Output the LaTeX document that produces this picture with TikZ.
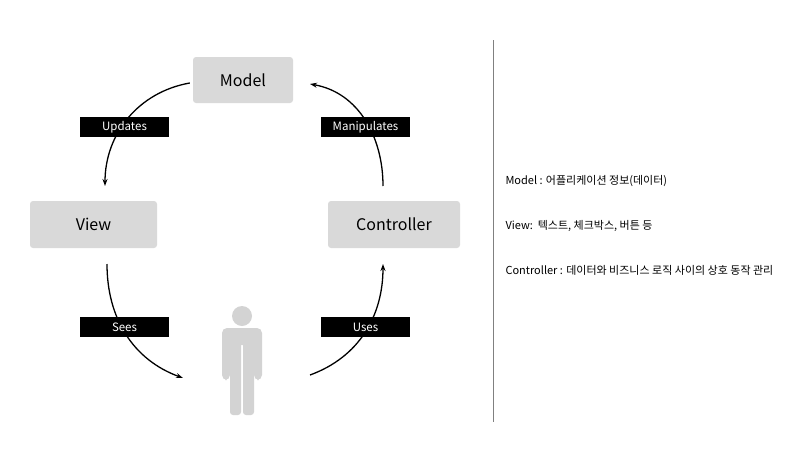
\documentclass[tikz,border=0pt]{standalone}
\usepackage{fontspec}
\setmainfont{Noto Sans CJK KR}
\usetikzlibrary{arrows.meta}
\definecolor{boxg}{HTML}{D9D9D9}
\definecolor{pers}{HTML}{D3D3D3}
\begin{document}
\begin{tikzpicture}[x=1pt,y=-1pt,
  mvc/.style={fill=boxg,rounded corners=3pt,inner sep=0pt,font=\fontsize{16}{19}\selectfont},
  lab/.style={fill=black,text=white,inner sep=0pt,minimum width=89pt,minimum height=20pt,font=\fontsize{11.5}{13}\selectfont},
  arc/.style={-{Stealth[length=7pt,width=5pt]},line width=1.3pt},
  side/.style={anchor=west,font=\fontsize{11}{13}\selectfont}]
\useasboundingbox (0,0) rectangle (800,450);
\node[mvc,minimum width=100pt,minimum height=46pt] (model) at (243,80) {Model};
\node[mvc,minimum width=127pt,minimum height=47pt] (view) at (93.5,224.5) {View};
\node[mvc,minimum width=132pt,minimum height=47pt] (ctrl) at (394,224.5) {Controller};
% person
\fill[pers] (242,316) circle (10);
\fill[pers,rounded corners=5pt] (222,380) -- (222,328) -- (262,328) -- (262,380) -- (254,380) -- (254,345)-- (230,345) -- (230,380) -- cycle;
\fill[pers,rounded corners=3pt] (230,340) rectangle (241,415);
\fill[pers,rounded corners=3pt] (243,340) rectangle (254,415);
\coordinate (p1) at (183,378);
\coordinate (p2) at (310,375);
\draw[arc] (model.west) ++(-3,3) coordinate (m1) (m1) to[out=190,in=90] (105,186);
\draw[arc] (383,186) to[out=90,in=-10] (310,84);
\draw[arc] (107,264) to[out=-90,in=160] (p1);
\draw[arc] (p2) to[out=20,in=-90] (383,264);
\node[lab] (up) at (124.5,127) {Updates};
\node[lab] (man) at (365.5,127) {Manipulates};
\node[lab] (sees) at (124.5,327) {Sees};
\node[lab] (uses) at (365.5,327) {Uses};
\draw[gray,line width=0.8pt] (493,40) -- (493,422);
\node[side] (t1) at (502,181) {Model : 어플리케이션 정보(데이터)};
\node[side] (t2) at (502,226) {View:\ \ 텍스트, 체크박스, 버튼 등};
\node[side] (t3) at (502,270) {Controller : 데이터와 비즈니스 로직 사이의 상호 동작 관리};
\end{tikzpicture}
\end{document}
